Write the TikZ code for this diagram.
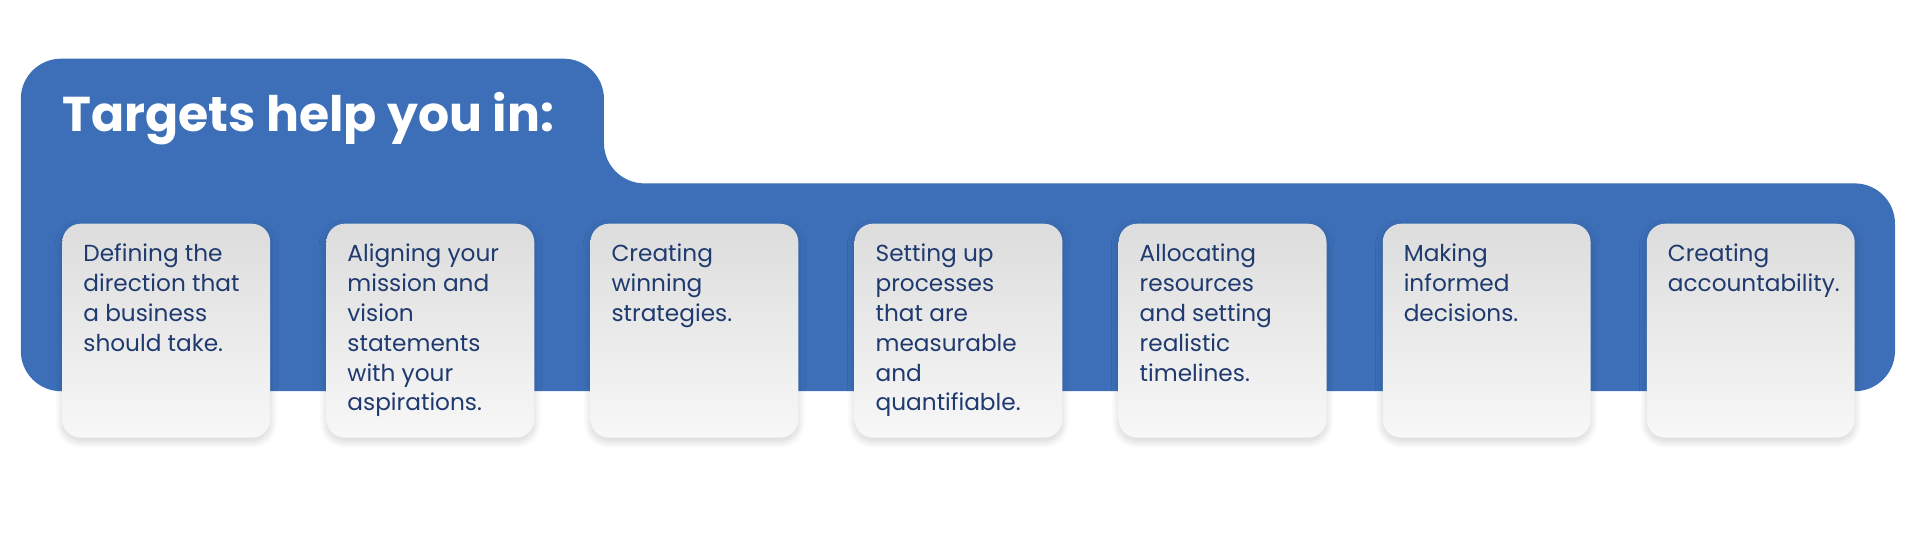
\documentclass[tikz,border=0pt]{standalone}
\usepackage{fontspec}
\setmainfont{Poppins}
\usetikzlibrary{shadows.blur}
\definecolor{bandblue}{HTML}{3C6FB8}
\definecolor{navy}{HTML}{1F3A6E}
\begin{document}
\begin{tikzpicture}[x=1pt,y=-1pt,
  card/.style={rounded corners=15pt,top color=gray!27,bottom color=gray!6,
    blur shadow={shadow blur steps=15,shadow xshift=0pt,shadow yshift=-3pt,shadow opacity=18,shadow blur radius=6pt}},
  txt/.style={anchor=north west,align=left,text=navy,
    font=\fontsize{19}{24.5}\selectfont,inner sep=0pt}]
\useasboundingbox (0,0) rectangle (1568,443);
\fill[bandblue,rounded corners=33pt] (17,320) -- (17,48) -- (494,48) -- (494,150) -- (1550,150) -- (1550,320) -- cycle;
\node[anchor=west,text=white,font=\fontsize{40}{44}\selectfont\bfseries,inner sep=0pt] (title) at (51,97) {Targets help you in:};
\foreach \i/\t in {0/{Defining the\\direction that\\a business\\should take.},
  1/{Aligning your\\mission and\\vision\\statements\\with your\\aspirations.},
  2/{Creating\\winning\\strategies.},
  3/{Setting up\\processes\\that are\\measurable\\and\\quantifiable.},
  4/{Allocating\\resources\\and setting\\realistic\\timelines.},
  5/{Making\\informed\\decisions.},
  6/{Creating\\accountability.}}{
  \path[card] (51+216*\i,183) rectangle (221+216*\i,358);
  \node[txt] (t\i) at (68+216*\i,199) {\t};
}
\end{tikzpicture}
\end{document}
